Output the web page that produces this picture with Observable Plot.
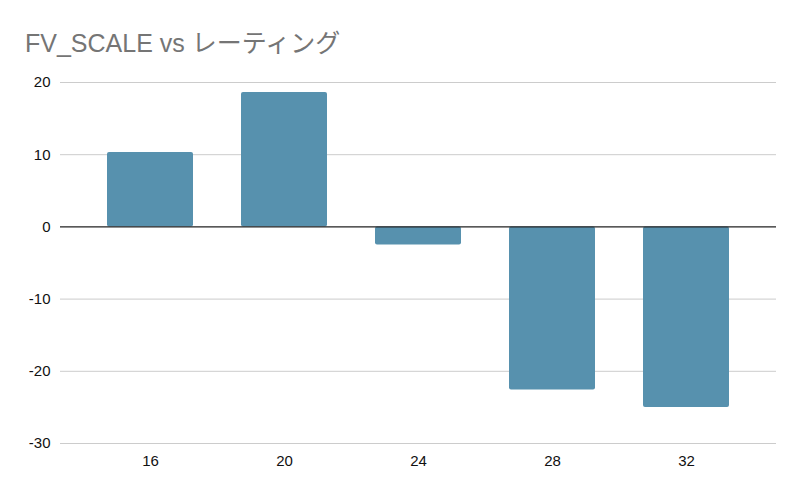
<!DOCTYPE html>
<html>
<head>
<meta charset="utf-8">
<script src="https://cdn.jsdelivr.net/npm/d3@7"></script>
<script src="https://cdn.jsdelivr.net/npm/@observablehq/plot@0.6"></script>
<style>
  html, body { margin: 0; padding: 0; background: #fff; }
  body { width: 800px; height: 495px; overflow: hidden; font-family: "Liberation Sans", Arial, "Noto Sans CJK JP", sans-serif; }
  #title { height: 60px; box-sizing: border-box; padding: 28px 0 0 25px; font-size: 25px; line-height: 30px; color: #757575; white-space: nowrap; }
  #chart svg { display: block; }
</style>
</head>
<body>
<div id="title">FV_SCALE vs レーティング</div>
<div id="chart"></div>
<script>
const categories = ["16", "20", "24", "28", "32"];
const values = [10.3, 18.6, -2.5, -22.6, -25.0];
const yTicks = [-30, -20, -10, 0, 10, 20];

const data = categories.map((c, i) => ({ category: c, value: values[i] }));

const chart = Plot.plot({
  width: 800,
  height: 435,
  marginTop: 22,
  marginBottom: 52,
  marginLeft: 60,
  marginRight: 24,
  style: { fontFamily: '"Liberation Sans", Arial, sans-serif', fontSize: "15px", color: "#111", background: "#fff" },
  x: { domain: categories, paddingInner: 0.358, paddingOuter: 0.35 },
  y: { domain: [-30, 20] },
  marks: [
    Plot.ruleY(yTicks.filter(d => d !== 0), { stroke: "#cccccc", strokeWidth: 1 }),
    Plot.barY(data, { x: "category", y: "value", fill: "#5791ae", rx: 2 }),
    Plot.ruleY([0], { stroke: "#222222", strokeWidth: 1.2 }),
    Plot.axisX({ label: null, tickSize: 0, tickPadding: 12, fontSize: 15, fill: "#111" }),
    Plot.axisY({ ticks: yTicks, tickFormat: d => String(d), label: null, tickSize: 0, tickPadding: 10, fontSize: 15, fill: "#111" })
  ]
});
document.getElementById("chart").appendChild(chart);
</script>
</body>
</html>
